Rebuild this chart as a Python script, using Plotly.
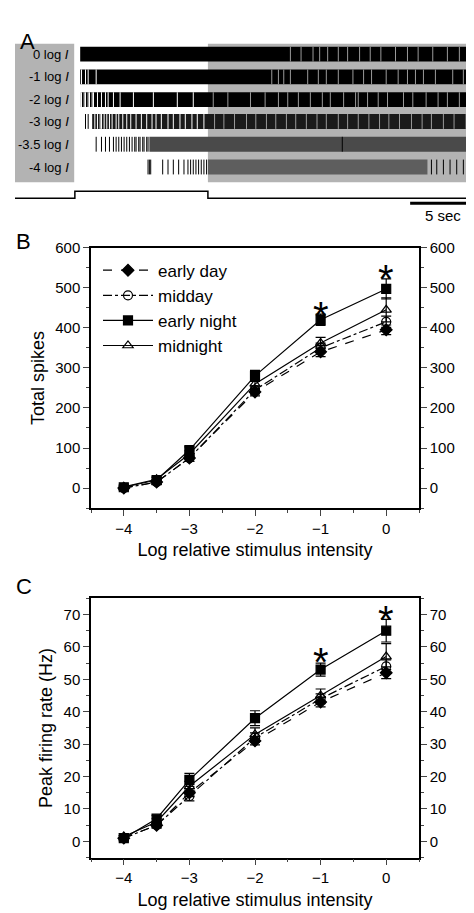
import plotly.graph_objects as go

# ---------------- data ----------------
x_int = [-4, -3.5, -3, -2, -1, 0]
b_day = [0, 15, 75, 240, 340, 395];      b_day_e = [5, 6, 8, 10, 12, 12]
b_mid = [0, 15, 75, 245, 350, 415];      b_mid_e = [5, 6, 8, 10, 12, 14]
b_ngt = [2, 20, 95, 280, 420, 497];      b_ngt_e = [5, 6, 8, 14, 14, 25]
b_mn  = [3, 22, 85, 260, 362, 445];      b_mn_e  = [5, 6, 8, 12, 14, 30]
c_day = [1, 5, 15, 31, 43, 52];          c_day_e = [0.8, 0.8, 1.2, 1.2, 1.5, 1.8]
c_mid = [1, 5, 14, 32, 44, 54];          c_mid_e = [0.8, 0.8, 1.5, 1.5, 1.5, 2]
c_ngt = [1, 7, 19, 38, 53, 65];          c_ngt_e = [0.8, 1, 2, 2.3, 2, 3.5]
c_mn  = [1.5, 6, 17, 33, 45, 57];        c_mn_e  = [0.8, 1, 1.5, 2, 2, 4]

row_labels = ["0 log <i>I</i>", "-1 log <i>I</i>", "-2 log <i>I</i>", "-3 log <i>I</i>",
              "-3.5 log <i>I</i>", "-4 log <i>I</i>"]
row0_solid = [(0.4, 30.15)]
row0_gaps = [16.2, 17.0, 17.9, 18.4, 19.0, 19.8, 20.5, 21.4, 22.2, 23.0, 24.1, 25.0, 25.8, 26.9, 28.0, 28.9, 29.8]
row1_solid = [(0.4, 30.15)]
row1_gaps = [0.5, 0.8, 1.0, 1.6, 14.8, 15.3, 15.7, 16.2, 17.5, 18.3, 18.9, 19.8, 20.9, 21.7, 22.3, 23.4,
             24.3, 25.0, 25.6, 26.2, 27.1, 28.4, 29.2, 29.7]
row2_solid = [(0.45, 30.15)]
row2_gaps = [0.5, 0.7, 0.8, 1.0, 1.1, 1.3, 1.4, 1.7, 2.0, 2.3, 2.5, 2.9, 3.4, 4.4, 5.9, 7.7, 8.9, 10.4, 11.5,
             13.2, 14.3, 15.3, 16.0, 16.8, 17.7, 18.6, 19.2, 20.2, 21.1, 21.3, 22.0, 22.8, 23.5, 24.7,
             25.4, 26.4, 27.3, 28.0, 28.9, 29.5]
row3_spikes = [0.8, 1.0]
row3_solid = [(1.3, 30.15)]
row3_gaps = [1.5, 1.7, 1.9, 2.0, 2.2, 2.4, 2.6, 2.8, 3.1, 3.3, 3.6, 3.9, 4.2, 4.6, 5.0, 5.4, 5.8, 6.1, 6.5,
             7.0, 7.4, 7.9, 8.3, 8.8, 9.2, 9.7, 10.5, 11.2, 12.0, 12.9, 13.6, 14.4, 15.1, 15.9, 16.6, 17.4,
             18.2, 18.9, 19.8, 20.5, 21.3, 22.1, 22.9, 23.6, 24.4, 25.3, 26.1, 26.8, 27.7, 28.5, 29.4]
row4_spikes = [1.6, 2.0, 2.3, 2.6, 2.9, 3.1, 3.3, 3.5, 3.7, 3.9, 4.1, 4.3, 4.5, 4.6, 4.8, 4.9, 5.1, 5.2, 5.4, 5.5, 20.1]
row4_band = [(5.6, 30.15)]
row5_spikes = [5.5, 5.6, 5.7, 6.6, 7.0, 7.4, 7.8, 8.2, 8.5, 8.7, 8.9, 9.1, 9.3, 9.5, 9.7, 9.9,
               26.8, 27.2, 27.7, 28.2, 28.7, 29.2, 29.6, 30.0]
row5_band = [(10.0, 26.5)]
stim_t = [-4.5, 0, 0, 10, 10, 30.15]
stim_on = [0, 0, 1, 1, 0, 0]

# ---------------- figure ----------------
fig = go.Figure()
GRAY = "#b3b3b3"
FONT = "Liberation Sans, Arial, sans-serif"
shapes = []
ann = []

# panel A
shapes.append(dict(type="rect", xref="x3", yref="y3", x0=-4.5, x1=-0.05, y0=27, y1=167, fillcolor=GRAY, line_width=0, layer="below"))
shapes.append(dict(type="rect", xref="x3", yref="y3", x0=10, x1=30.15, y0=27, y1=167, fillcolor=GRAY, line_width=0, layer="below"))
rows = [
    (row0_solid, row0_gaps, [], [], "black"),
    (row1_solid, row1_gaps, [], [], "black"),
    (row2_solid, row2_gaps, [], [], "black"),
    (row3_solid, row3_gaps, row3_spikes, [], "#1a1a1a"),
    ([], [], row4_spikes, row4_band, "#4a4a4a"),
    ([], [], row5_spikes, row5_band, "#5e5e5e"),
]
ys = [37.5, 60.5, 83.5, 105.5, 128.5, 151.5]
for i, (solid, gaps, spikes, band, bc) in enumerate(rows):
    yc = ys[i]
    for a, b in solid + band:
        shapes.append(dict(type="rect", xref="x3", yref="y3", x0=a, x1=b, y0=yc - 7.5, y1=yc + 7.5,
                           fillcolor=bc, line_width=0, layer="below"))
    if gaps:
        wg = [g for g in gaps if g < 10]; gg = [g for g in gaps if g >= 10]
        for lst, col in ((wg, "white"), (gg, "#9a9a9a")):
            xx, yy = [], []
            for g in lst:
                xx += [g, g, None]; yy += [yc - 7.5, yc + 7.5, None]
            fig.add_trace(go.Scatter(x=xx, y=yy, mode="lines", line=dict(color=col, width=1), xaxis="x3", yaxis="y3", showlegend=False, hoverinfo="skip"))
    if spikes:
        xx, yy = [], []
        for s in spikes:
            xx += [s, s, None]; yy += [yc - 7.5, yc + 7.5, None]
        fig.add_trace(go.Scatter(x=xx, y=yy, mode="lines", line=dict(color="black", width=1), xaxis="x3", yaxis="y3", showlegend=False, hoverinfo="skip"))
    ann.append(dict(x=-0.3, y=yc, xref="x3", yref="y3", text=row_labels[i], showarrow=False, xanchor="right",
                    font=dict(size=13, color="black", family=FONT)))
fig.add_trace(go.Scatter(x=stim_t, y=[183 - 7 * v for v in stim_on], mode="lines", line=dict(color="black", width=1.5),
                         xaxis="x3", yaxis="y3", showlegend=False, hoverinfo="skip"))
fig.add_trace(go.Scatter(x=[25.2, 30.15], y=[188, 188], mode="lines", line=dict(color="black", width=3),
                         xaxis="x3", yaxis="y3", showlegend=False, hoverinfo="skip"))
ann.append(dict(x=27.7, y=200, xref="x3", yref="y3", text="5 sec", showarrow=False, font=dict(size=15, family=FONT, color="black")))

# panels B and C
series = [
    ("early day", "diamond", "dash"),
    ("midday", "circle-open", "dashdot"),
    ("early night", "square", "solid"),
    ("midnight", "triangle-up-open", "solid"),
]
bdata = [(b_day, b_day_e), (b_mid, b_mid_e), (b_ngt, b_ngt_e), (b_mn, b_mn_e)]
cdata = [(c_day, c_day_e), (c_mid, c_mid_e), (c_ngt, c_ngt_e), (c_mn, c_mn_e)]
for xa, ya, data, leg in (("x", "y", bdata, True), ("x2", "y4", cdata, False)):
    for (name, sym, dash), (yv, ev) in zip(series, data):
        fig.add_trace(go.Scatter(x=x_int, y=yv, name=name, mode="lines+markers", showlegend=leg,
                                 error_y=dict(array=ev, color="black", thickness=1.2, width=5),
                                 line=dict(color="black", dash=dash, width=1.2),
                                 marker=dict(symbol=sym, size=9, color="black",
                                             line=dict(color="black", width=1.2)),
                                 xaxis=xa, yaxis=ya))

for xx, yy, yr in [(-1, 455, "y"), (0, 548, "y"), (-1, 58.5, "y4"), (0, 71.5, "y4")]:
    ann.append(dict(x=xx, y=yy, xref="x" if yr == "y" else "x2", yref=yr, text="*", showarrow=False,
                    font=dict(size=40, family=FONT, color="black"), yshift=-10))

ann += [
    dict(x=10 / 474, y=1 - 10 / 913, xref="paper", yref="paper", text="A", showarrow=False, font=dict(size=22, family=FONT, color="black"), xanchor="left"),
    dict(x=6 / 474, y=1 - 212 / 913, xref="paper", yref="paper", text="B", showarrow=False, font=dict(size=22, family=FONT, color="black"), xanchor="left"),
    dict(x=6 / 474, y=1 - 575 / 913, xref="paper", yref="paper", text="C", showarrow=False, font=dict(size=22, family=FONT, color="black"), xanchor="left"),
]

tickf = dict(size=15, family=FONT, color="black")
titf = dict(size=18, family=FONT, color="black")
common_x = dict(range=[-4.5, 0.5], tickvals=[-4, -3, -2, -1, 0], ticks="outside", ticklen=6, showline=True,
                linecolor="black", linewidth=1.5, mirror=True, showgrid=False, zeroline=False, tickfont=tickf,
                minor=dict(dtick=0.5, ticks="outside", ticklen=3, tick0=0), domain=[83 / 474, 411 / 474],
                title=dict(text="Log relative stimulus intensity", font=titf, standoff=8))
common_y = dict(ticks="outside", ticklen=6, showline=True, linecolor="black", linewidth=1.5, showgrid=False,
                zeroline=False, tickfont=tickf)
fig.update_layout(
    width=474, height=913, margin=dict(l=0, r=0, t=0, b=0), paper_bgcolor="white", plot_bgcolor="white",
    shapes=shapes, annotations=ann,
    xaxis=dict(**common_x, anchor="y"),
    xaxis2=dict(**common_x, anchor="y4"),
    yaxis=dict(**common_y, range=[-50, 600], dtick=100, domain=[1 - 496 / 913, 1 - 233 / 913],
               minor=dict(dtick=50, ticks="outside", ticklen=3), anchor="x",
               title=dict(text="Total spikes", font=titf, standoff=6)),
    yaxis2=dict(**common_y, range=[-50, 600], dtick=100, overlaying="y", side="right", anchor="x",
                minor=dict(dtick=50, ticks="outside", ticklen=3)),
    yaxis4=dict(**common_y, range=[-5, 75], dtick=10, domain=[1 - 849 / 913, 1 - 587 / 913],
                minor=dict(dtick=5, ticks="outside", ticklen=3), anchor="x2",
                title=dict(text="Peak firing rate (Hz)", font=titf, standoff=6)),
    yaxis5=dict(**common_y, range=[-5, 75], dtick=10, overlaying="y4", side="right", anchor="x2",
                minor=dict(dtick=5, ticks="outside", ticklen=3)),
    xaxis3=dict(range=[-4.5, 30.15], domain=[7 / 474, 468 / 474], visible=False, anchor="y3"),
    yaxis3=dict(range=[205, 0], domain=[1 - 205 / 913, 1], visible=False, anchor="x3"),
    legend=dict(x=90 / 474, y=1 - 238 / 913, xanchor="left", yanchor="top", xref="paper", yref="paper",
                font=dict(size=17, family=FONT, color="black"),
                bgcolor="rgba(0,0,0,0)", tracegroupgap=0, itemwidth=50),
    showlegend=True,
)
fig.add_trace(go.Scatter(x=[None], y=[None], xaxis="x", yaxis="y2", showlegend=False))
fig.add_trace(go.Scatter(x=[None], y=[None], xaxis="x2", yaxis="y5", showlegend=False))
fig.write_html("out.html")
